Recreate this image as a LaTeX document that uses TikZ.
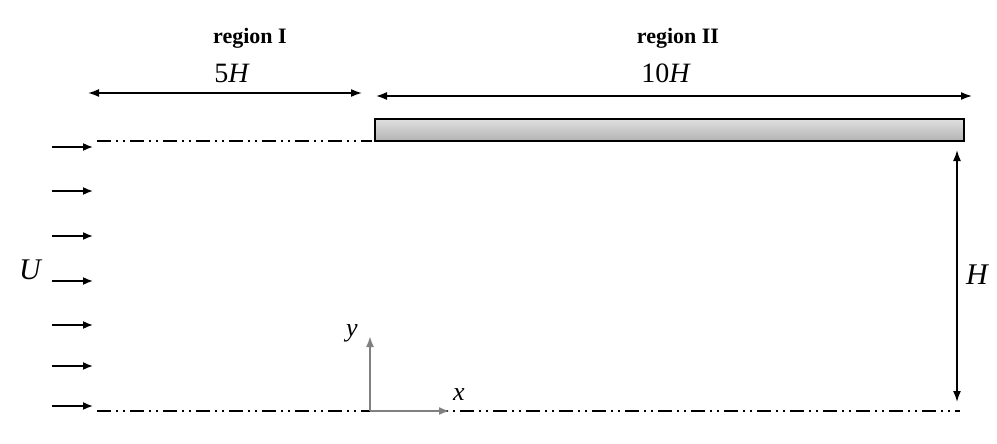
\documentclass[tikz,border=0pt]{standalone}
\usepackage{fontspec}
\setmainfont{Liberation Serif}
\usetikzlibrary{arrows.meta}
\begin{document}
\begin{tikzpicture}[x=1pt,y=-1pt,
  dd/.style={line width=1.6pt,dash pattern=on 14pt off 5pt on 2pt off 5pt on 2pt off 5pt},
  dim/.style={line width=1.6pt,{Latex[length=11pt,width=8pt]}-{Latex[length=11pt,width=8pt]}},
  flow/.style={line width=1.6pt,-{Latex[length=10pt,width=8pt]}},
  ax/.style={line width=2pt,draw=gray,-{Latex[length=11pt,width=8pt]},gray}]
\useasboundingbox (0,0) rectangle (997,444);
\coordinate (t0) at (97,141); \coordinate (t1) at (372,141);
\coordinate (b0) at (97,411); \coordinate (b1) at (960,411);
\draw[dd] (t0) -- (t1);
\draw[dd] (b0) -- (b1);
\draw[line width=1.6pt,top color=gray!25,bottom color=gray!60] (375,119) rectangle (964,141);
\foreach \y in {147,191,236,281,325,366,406}{
  \coordinate (fa) at (52,\y); \coordinate (fb) at (93,\y);
  \draw[flow] (fa) -- (fb);}
\node[font=\fontsize{30}{30}\selectfont\itshape] (U) at (30,270) {U};
\coordinate (h0) at (957,150); \coordinate (h1) at (957,402);
\draw[dim] (h0) -- (h1);
\node[font=\fontsize{30}{30}\selectfont\itshape] (H) at (977,275) {H};
\coordinate (a0) at (88,93); \coordinate (a1) at (362,93);
\draw[dim] (a0) -- (a1);
\coordinate (c0) at (376,96); \coordinate (c1) at (972,96);
\draw[dim] (c0) -- (c1);
\node[font=\fontsize{22}{22}\selectfont\bfseries] (r1) at (250,38) {region I};
\node[font=\fontsize{22}{22}\selectfont\bfseries] (r2) at (678,38) {region II};
\node[font=\fontsize{28}{28}\selectfont] (l1) at (232,73) {5\textit{H}};
\node[font=\fontsize{28}{28}\selectfont] (l2) at (666,73) {10\textit{H}};
\coordinate (o) at (370,411); \coordinate (oy) at (370,336); \coordinate (ox) at (450,411);
\draw[ax] (o) -- (oy);
\draw[ax] (o) -- (ox);
\node[font=\fontsize{26}{26}\selectfont\itshape] (yl) at (352,333) {y};
\node[font=\fontsize{26}{26}\selectfont\itshape] (xl) at (459,395) {x};
\end{tikzpicture}
\end{document}
